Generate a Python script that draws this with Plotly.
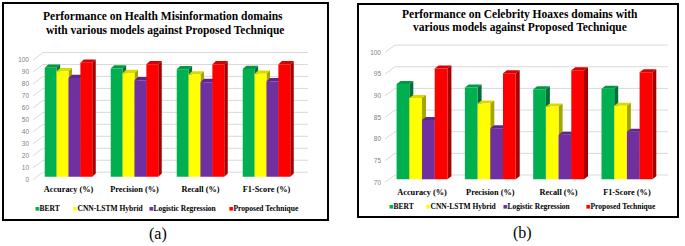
import plotly.graph_objects as go

W, H = 685, 246

categories = ["Accuracy (%)", "Precision (%)", "Recall (%)", "F1-Score (%)"]
series_names = ["BERT", "CNN-LSTM Hybrid", "Logistic Regression", "Proposed Technique"]
series_colors = ["#00B050", "#FFFF00", "#7030A0", "#FF0000"]
top_colors = ["#009A45", "#D9D900", "#5E2888", "#D80000"]
side_colors = ["#00703A", "#A6A600", "#4A1F6E", "#A80000"]

# (a) Health Misinformation
health_bert = [91.0, 90.3, 89.7, 90.0]
health_cnn = [88.0, 86.5, 85.3, 86.0]
health_lr = [82.5, 80.5, 79.0, 79.8]
health_pt = [95.2, 94.0, 93.8, 93.8]
health_ticks = [0, 10, 20, 30, 40, 50, 60, 70, 80, 90, 100]

# (b) Celebrity Hoaxes
celeb_bert = [92.0, 91.2, 90.8, 90.9]
celeb_cnn = [88.8, 87.5, 86.8, 87.0]
celeb_lr = [83.7, 81.8, 80.3, 81.0]
celeb_pt = [95.6, 94.5, 95.2, 94.7]
celeb_ticks = [70, 75, 80, 85, 90, 95, 100]

title_a = ["Performance on Health Misinformation domains",
           "with various models against Proposed Technique"]
title_b = ["Performance on Celebrity Hoaxes domains with",
           "various models against Proposed Technique"]

SERIF = "Liberation Serif"


def px_x(p):
    return p / W


def px_y(p):
    return 1 - p / H


panels = [
    dict(xa="x", ya="y", data=[health_bert, health_cnn, health_lr, health_pt], ticks=health_ticks,
         base=0, x_front_px=33, x_end_px=312, grid_end_px=308, g0_px=68.5, gstep=66.0,
         floor_px=176.7, sy=1.197, ytop_px=48, ybot_px=183, bw=0.18, ddx_px=3.5, ddy_px=3.3,
         back_px=7.5),
    dict(xa="x2", ya="y2", data=[celeb_bert, celeb_cnn, celeb_lr, celeb_pt], ticks=celeb_ticks,
         base=70, x_front_px=385, x_end_px=672, grid_end_px=668, g0_px=422.0, gstep=68.3,
         floor_px=179.3, sy=4.33, ytop_px=40, ybot_px=186, bw=0.186, ddx_px=4.0, ddy_px=3.0,
         back_px=7.3),
]

fig = go.Figure()
shapes = []
layout_axes = {}

for pi, P in enumerate(panels):
    sx = P["gstep"]
    x0 = (P["x_front_px"] - P["g0_px"]) / sx
    x1 = (P["x_end_px"] - P["g0_px"]) / sx
    xg_end = (P["grid_end_px"] - P["g0_px"]) / sx
    sy = P["sy"]
    base = P["base"]
    y_top = base + (P["floor_px"] - P["ytop_px"]) / sy
    y_bot = base - (P["ybot_px"] - P["floor_px"]) / sy
    xa, ya = P["xa"], P["ya"]
    lab_off = 3.0  # labels sit 3px below the bar floor level

    # 3D-style gridlines: slanted wall segment + back-wall line
    for v in P["ticks"]:
        yf = v - lab_off / sy
        yb = v + (P["back_px"] - lab_off) / sy
        xb = x0 + 10.0 / sx
        shapes.append(dict(type="line", xref=xa, yref=ya, x0=x0, y0=yf, x1=xb, y1=yb,
                           line=dict(color="#D9D9D9", width=1), layer="below"))
        shapes.append(dict(type="line", xref=xa, yref=ya, x0=xb, y0=yb, x1=xg_end, y1=yb,
                           line=dict(color="#D9D9D9", width=1), layer="below"))

    bw = P["bw"]
    ddx = P["ddx_px"] / sx
    ddy = P["ddy_px"] / sy
    # top & side faces, drawn left to right
    for gi in range(len(categories)):
        for k, vals in enumerate(P["data"]):
            v = vals[gi]
            xl = gi - 2 * bw + k * bw
            xr = xl + bw
            top = (f"M{xl},{v} L{xr},{v} L{xr + ddx},{v + ddy} L{xl + ddx},{v + ddy} Z")
            side = (f"M{xr},{base} L{xr},{v} L{xr + ddx},{v + ddy} L{xr + ddx},{base + ddy} Z")
            shapes.append(dict(type="path", xref=xa, yref=ya, path=top,
                               fillcolor=top_colors[k], line=dict(width=0), layer="below"))
            shapes.append(dict(type="path", xref=xa, yref=ya, path=side,
                               fillcolor=side_colors[k], line=dict(width=0), layer="below"))

    for k, vals in enumerate(P["data"]):
        fig.add_trace(go.Bar(
            x=list(range(len(categories))), y=[v - base for v in vals], base=base,
            width=bw, offset=-2 * bw + k * bw, name=series_names[k],
            marker=dict(color=series_colors[k], line=dict(width=0)),
            xaxis=xa, yaxis=ya, showlegend=False,
        ))

    xkey = "xaxis" if pi == 0 else "xaxis2"
    ykey = "yaxis" if pi == 0 else "yaxis2"
    layout_axes[xkey] = dict(
        domain=[px_x(P["x_front_px"]), px_x(P["x_end_px"])], range=[x0, x1],
        tickvals=list(range(len(categories))), ticktext=categories,
        tickfont=dict(family=SERIF, size=8.3, color="#000000", weight="bold"),
        showgrid=False, zeroline=False, showline=False, ticks="", anchor=ya,
        fixedrange=True,
    )
    layout_axes[ykey] = dict(
        domain=[px_y(P["ybot_px"]), px_y(P["ytop_px"])], range=[y_bot, y_top],
        tickvals=P["ticks"], tickfont=dict(family="Liberation Sans", size=6.5, color="#7F7F7F"),
        showgrid=False, zeroline=False, showline=False, ticks="", anchor=xa,
        ticklabelshift=3, ticklabelstandoff=3, fixedrange=True,
    )

# outer frames
shapes.append(dict(type="rect", xref="paper", yref="paper", x0=px_x(3), y0=px_y(220),
                   x1=px_x(328), y1=px_y(3), line=dict(color="#000000", width=2), layer="above"))
shapes.append(dict(type="rect", xref="paper", yref="paper", x0=px_x(358), y0=px_y(217),
                   x1=px_x(678), y1=px_y(4), line=dict(color="#000000", width=2), layer="above"))

annotations = []


def add_text(text, xp, yp, size, xanchor="center", bold=True, family=SERIF):
    annotations.append(dict(
        text=text, x=px_x(xp), y=px_y(yp), xref="paper", yref="paper",
        xanchor=xanchor, yanchor="middle", showarrow=False,
        font=dict(family=family, size=size, color="#000000", weight="bold" if bold else "normal"),
    ))


# titles
add_text(title_a[0], 163, 15.7, 11.5)
add_text(title_a[1], 165, 31.0, 11.5)
add_text(title_b[0], 520, 14.5, 11.5)
add_text(title_b[1], 520, 27.5, 11.5)

# legends
leg_a_x = [33, 71, 147, 227]
leg_b_x = [387, 424, 501, 584]
for k in range(4):
    t = f"<span style='color:{series_colors[k]}'>■</span>{series_names[k]}"
    add_text(t, leg_a_x[k], 208, 7.5, xanchor="left")
    add_text(t, leg_b_x[k], 206, 7.5, xanchor="left")

# panel labels
add_text("(a)", 158, 234, 16, bold=False)
add_text("(b)", 522, 233, 16, bold=False)

fig.update_layout(
    width=W, height=H, margin=dict(l=0, r=0, t=0, b=0),
    paper_bgcolor="#FFFFFF", plot_bgcolor="rgba(0,0,0,0)",
    barmode="overlay", showlegend=False,
    shapes=shapes, annotations=annotations,
    **layout_axes,
)

fig.write_html(
    "out.html",
    config={"displayModeBar": False},
    post_script="document.body.style.margin='0';document.body.style.padding='0';"
                "document.body.style.overflow='hidden';",
)
